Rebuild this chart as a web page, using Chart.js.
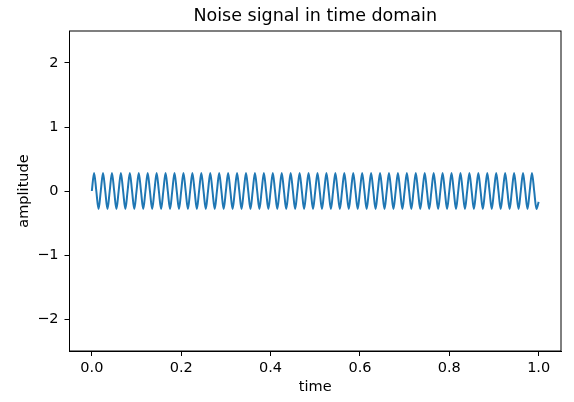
<!DOCTYPE html>
<html>
<head>
<meta charset="utf-8">
<script src="https://cdn.jsdelivr.net/npm/chart.js@4.4.1/dist/chart.umd.min.js"></script>
<style>
  html, body { margin: 0; padding: 0; background: #fff; }
  #wrap { width: 574px; height: 402px; }
</style>
</head>
<body>
<div id="wrap"><canvas id="noiseChart" width="574" height="402"></canvas></div>
<script>
// sample times (s)
const times = [
  0, 0.005, 0.01, 0.015, 0.02, 0.025, 0.03, 0.035, 0.04, 0.045,
  0.05, 0.055, 0.06, 0.065, 0.07, 0.075, 0.08, 0.085, 0.09, 0.095,
  0.1, 0.105, 0.11, 0.115, 0.12, 0.125, 0.13, 0.135, 0.14, 0.145,
  0.15, 0.155, 0.16, 0.165, 0.17, 0.175, 0.18, 0.185, 0.19, 0.195,
  0.2, 0.205, 0.21, 0.215, 0.22, 0.225, 0.23, 0.235, 0.24, 0.245,
  0.25, 0.255, 0.26, 0.265, 0.27, 0.275, 0.28, 0.285, 0.29, 0.295,
  0.3, 0.305, 0.31, 0.315, 0.32, 0.325, 0.33, 0.335, 0.34, 0.345,
  0.35, 0.355, 0.36, 0.365, 0.37, 0.375, 0.38, 0.385, 0.39, 0.395,
  0.4, 0.405, 0.41, 0.415, 0.42, 0.425, 0.43, 0.435, 0.44, 0.445,
  0.45, 0.455, 0.46, 0.465, 0.47, 0.475, 0.48, 0.485, 0.49, 0.495,
  0.5, 0.505, 0.51, 0.515, 0.52, 0.525, 0.53, 0.535, 0.54, 0.545,
  0.55, 0.555, 0.56, 0.565, 0.57, 0.575, 0.58, 0.585, 0.59, 0.595,
  0.6, 0.605, 0.61, 0.615, 0.62, 0.625, 0.63, 0.635, 0.64, 0.645,
  0.65, 0.655, 0.66, 0.665, 0.67, 0.675, 0.68, 0.685, 0.69, 0.695,
  0.7, 0.705, 0.71, 0.715, 0.72, 0.725, 0.73, 0.735, 0.74, 0.745,
  0.75, 0.755, 0.76, 0.765, 0.77, 0.775, 0.78, 0.785, 0.79, 0.795,
  0.8, 0.805, 0.81, 0.815, 0.82, 0.825, 0.83, 0.835, 0.84, 0.845,
  0.85, 0.855, 0.86, 0.865, 0.87, 0.875, 0.88, 0.885, 0.89, 0.895,
  0.9, 0.905, 0.91, 0.915, 0.92, 0.925, 0.93, 0.935, 0.94, 0.945,
  0.95, 0.955, 0.96, 0.965, 0.97, 0.975, 0.98, 0.985, 0.99, 0.995,
  1.0
];

// amplitude (zero crossings, peaks, troughs)
const amplitude = [
  0, 0.28, 0, -0.28, 0, 0.28, 0, -0.28, 0, 0.28, 0, -0.28, 0, 0.28, 0, -0.28, 0, 0.28, 0, -0.28,
  0, 0.28, 0, -0.28, 0, 0.28, 0, -0.28, 0, 0.28, 0, -0.28, 0, 0.28, 0, -0.28, 0, 0.28, 0, -0.28,
  0, 0.28, 0, -0.28, 0, 0.28, 0, -0.28, 0, 0.28, 0, -0.28, 0, 0.28, 0, -0.28, 0, 0.28, 0, -0.28,
  0, 0.28, 0, -0.28, 0, 0.28, 0, -0.28, 0, 0.28, 0, -0.28, 0, 0.28, 0, -0.28, 0, 0.28, 0, -0.28,
  0, 0.28, 0, -0.28, 0, 0.28, 0, -0.28, 0, 0.28, 0, -0.28, 0, 0.28, 0, -0.28, 0, 0.28, 0, -0.28,
  0, 0.28, 0, -0.28, 0, 0.28, 0, -0.28, 0, 0.28, 0, -0.28, 0, 0.28, 0, -0.28, 0, 0.28, 0, -0.28,
  0, 0.28, 0, -0.28, 0, 0.28, 0, -0.28, 0, 0.28, 0, -0.28, 0, 0.28, 0, -0.28, 0, 0.28, 0, -0.28,
  0, 0.28, 0, -0.28, 0, 0.28, 0, -0.28, 0, 0.28, 0, -0.28, 0, 0.28, 0, -0.28, 0, 0.28, 0, -0.28,
  0, 0.28, 0, -0.28, 0, 0.28, 0, -0.28, 0, 0.28, 0, -0.28, 0, 0.28, 0, -0.28, 0, 0.28, 0, -0.28,
  0, 0.28, 0, -0.28, 0, 0.28, 0, -0.28, 0, 0.28, 0, -0.28, 0, 0.28, 0, -0.28, 0, 0.28, 0, -0.28,
  -0.17
];

const xTicks = [0, 0.2, 0.4, 0.6, 0.8, 1.0];
const yTicks = [-2, -1, 0, 1, 2];

const fontFamily = "'DejaVu Sans', sans-serif";

// matplotlib-style box around the axes
const frame = {
  id: 'frame',
  afterDraw(chart) {
    const { ctx, chartArea: a } = chart;
    ctx.save();
    ctx.strokeStyle = '#000';
    ctx.lineWidth = 1;
    ctx.strokeRect(a.left, a.top, a.right - a.left, a.bottom - a.top);
    ctx.restore();
  }
};

const points = times.map((t, i) => ({ x: t, y: amplitude[i] }));

new Chart(document.getElementById('noiseChart').getContext('2d'), {
  type: 'line',
  data: {
    datasets: [{
      data: points,
      borderColor: '#1f77b4',
      borderWidth: 2,
      pointRadius: 0,
      cubicInterpolationMode: 'monotone',
      fill: false
    }]
  },
  options: {
    responsive: false,
    animation: false,
    layout: { padding: { top: 0, right: 13, bottom: 0, left: 0 } },
    plugins: {
      legend: { display: false },
      tooltip: { enabled: false },
      title: {
        display: true,
        fullSize: false,
        text: 'Noise signal in time domain',
        color: '#000',
        font: { family: fontFamily, size: 17.5, weight: 'normal', lineHeight: 1.2 },
        padding: { top: 6, bottom: 4 }
      }
    },
    scales: {
      x: {
        type: 'linear',
        min: -0.05,
        max: 1.05,
        afterBuildTicks: (scale) => { scale.ticks = xTicks.map(v => ({ value: v })); },
        afterFit: (scale) => { scale.height = 51; },
        grid: { display: true, drawOnChartArea: false, drawTicks: true, tickLength: 5, color: '#000' },
        border: { display: true, color: '#000' },
        ticks: {
          color: '#000',
          padding: 4,
          maxRotation: 0,
          font: { family: fontFamily, size: 14.5 },
          callback: (v) => v.toFixed(1)
        },
        title: {
          display: true,
          text: 'time',
          color: '#000',
          font: { family: fontFamily, size: 14.5 },
          padding: { top: 0, bottom: 6.5 }
        }
      },
      y: {
        min: -2.5,
        max: 2.5,
        afterBuildTicks: (scale) => { scale.ticks = yTicks.map(v => ({ value: v })); },
        afterFit: (scale) => { scale.width = 69.5; },
        grid: { display: true, drawOnChartArea: false, drawTicks: true, tickLength: 5, color: '#000' },
        border: { display: true, color: '#000' },
        ticks: {
          color: '#000',
          padding: 6,
          font: { family: fontFamily, size: 14.5 },
          callback: (v) => (v < 0 ? '\u2212' + Math.abs(v) : String(v))
        },
        title: {
          display: true,
          text: 'amplitude',
          color: '#000',
          font: { family: fontFamily, size: 14.5 },
          padding: { top: 16, bottom: 0 }
        }
      }
    }
  },
  plugins: [frame]
});
</script>
</body>
</html>
